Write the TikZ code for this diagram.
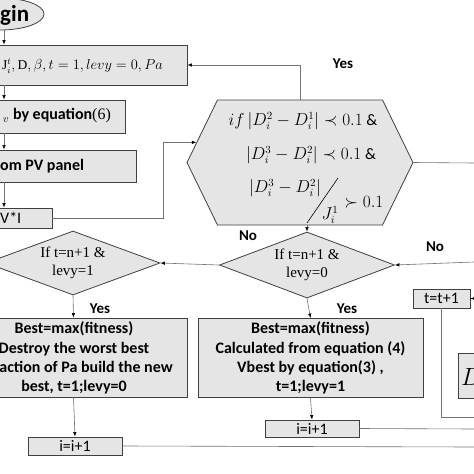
\documentclass[tikz,border=0pt]{standalone}
\usepackage{amsmath, amssymb}
\usepackage{fontspec}
\setmainfont{Carlito}
\newfontfamily\tms{Liberation Serif}
\usetikzlibrary{shapes}
\usetikzlibrary{shapes.geometric}
\usetikzlibrary{shapes.symbols}
\usetikzlibrary{arrows.meta}
\usetikzlibrary{positioning}
\usetikzlibrary{calc}
\tikzstyle{bloc}=[rectangle,draw=black!75,line width=0.8pt,fill=black!10,inner sep=0pt]
\tikzstyle{debutfin}=[ellipse,draw=black!75,line width=0.8pt,fill=black!10,inner sep=0pt]
\tikzstyle{test}=[diamond,aspect=2.6,draw=black!75,line width=0.8pt,fill=black!10,inner sep=0pt,
        font=\tms\fontsize{15}{18}\selectfont,align=center]
\tikzstyle{hexa}=[signal,signal to=west and east,signal pointer angle=128,
        draw=black!75,line width=0.8pt,fill=black!10,inner sep=0pt]
\tikzstyle{gras}=[font=\fontsize{16}{19.3}\selectfont\bfseries,align=center,inner sep=0pt]
\tikzstyle{simple}=[font=\fontsize{16}{19}\selectfont,inner sep=0pt]
\tikzstyle{maths}=[font=\fontsize{16}{19}\selectfont,inner sep=0pt]
\tikzstyle{reponse}=[font=\fontsize{15}{18}\selectfont\bfseries,inner sep=0pt]
\tikzstyle{suite}=[-{Latex[length=4.5pt,width=3.5pt,black]},draw=black!55,line width=0.6pt]
\tikzstyle{trait}=[draw=black!55,line width=0.6pt]

\begin{document}
\begin{tikzpicture}[x=1pt,y=-1pt]
\useasboundingbox (0,0) rectangle (474,474);
\fill[white] (0,0) rectangle (474,474);
\clip (0,0) rectangle (474,474);
\node[debutfin,minimum width=88,minimum height=32] (begin) at (0,14) {};
\node[gras,font=\fontsize{23}{26}\selectfont\bfseries,anchor=west] (beginT) at (0,15) {gin};
\node[bloc,minimum width=227,minimum height=40] (init) at (73.5,65) {};
\node[maths,anchor=west,font=\fontsize{13.5}{16}\selectfont] (initT) at (2,66)
        {$\text{\tms J}_i^t,\text{\tms D},\beta,t=1,levy=0,Pa$};
\node[bloc,minimum width=165,minimum height=33] (pv) at (42.5,116.5) {};
\node[gras,anchor=west] (pvT) at (3,116) {$_v$ by equation{\tms\mdseries(6)}};
\node[bloc,minimum width=176,minimum height=32] (panel) at (48,166) {};
\node[gras,anchor=west] (panelT) at (0,166) {om PV panel};
\node[bloc,minimum width=92,minimum height=20] (vi) at (6,218) {};
\node[simple,anchor=west] (viT) at (0,218) {V*I};
\node[hexa,minimum width=226,minimum height=125] (hex) at (300,162.5) {};
\node[maths] (c1) at (303,121) {$if\left|D_i^2-D_i^1\right|\prec 0.1\ \&$};
\node[maths] (c2) at (311,155) {$\left|D_i^3-D_i^2\right|\prec 0.1\ \&$};
\node[maths] (c3) at (285,188) {$\left|D_i^3-D_i^2\right|$};
\node[maths] (c4) at (330,215) {$J_i^1$};
\node[maths] (c5) at (364,202) {$\succ 0.1$};
\draw[line width=0.6pt] (338,178) -- (307,223);
\node[test,minimum width=174,minimum height=64] (test1) at (73,263) {If t=n+1 \&\\levy=1};
\node[test,minimum width=175,minimum height=66] (test2) at (307,265) {If t=n+1 \&\\levy=0};
\node[bloc,minimum width=227,minimum height=79] (best1) at (73.5,357.5) {};
\node[gras] (best1T) at (74,358) {Best=max(fitness)\\Destroy the worst best\\\hspace*{24pt}action of Pa build the new\\best, t=1;levy=0};
\node[bloc,gras,minimum width=225,minimum height=79] (best2) at (310.5,358)
        {Best=max(fitness)\\Calculated from equation (4)\\Vbest by equation(3) ,\\t=1;levy=1};
\node[bloc,simple,minimum width=94,minimum height=17] (inc2) at (312,428.5) {i=i+1};
\node[bloc,simple,minimum width=94,minimum height=18] (inc1) at (75,446) {i=i+1};
\node[bloc,simple,minimum width=57,minimum height=19] (tt) at (441.5,298.5) {t=t+1};
\node[bloc,minimum width=62,minimum height=45] (dbox) at (489,375.5) {};
\node[maths,font=\fontsize{28}{30}\selectfont,anchor=west] (dT) at (461,377) {$D$};
\node[reponse] (oui1) at (343,64) {Yes};
\node[reponse] (non1) at (248,236) {No};
\node[reponse] (non2) at (435,247) {No};
\node[reponse] (oui2) at (100,309) {Yes};
\node[reponse] (oui3) at (347,309) {Yes};
\coordinate (axe) at (4,0);
\coordinate (coude) at (163,218);
\coordinate (droite1) at (474,163);
\coordinate (droite2) at (474,262);
\coordinate (droite3) at (474,429);
\coordinate (droite4) at (474,447);
\coordinate (droite5) at (474,298.5);
\coordinate (droite6) at (474,417);
%fleches
\draw[suite] (begin.south -| axe) -- (init.north -| axe);
\draw[suite] (init.south -| axe) -- (pv.north -| axe);
\draw[suite] (pv.south -| axe) -- (panel.north -| axe);
\draw[suite] (panel.south -| axe) -- (vi.north -| axe);
\draw[suite] (vi.east) -- (coude) |- (hex.169);
\draw[suite] (hex.north) |- (init.east);
\draw[trait] (hex.east) -- (droite1);
\draw[suite] (hex.south -| test2.north) -- (test2.north);
\draw[suite] (test2.west) -- (test1.east);
\draw[suite] (droite2) -- (test2.east);
\draw[suite] (test1.south) -- (best1.north);
\draw[suite] (test2.south) -- (best2.north);
\draw[suite] (best1.south) -- (inc1.north);
\draw[suite] (best2.south) -- (inc2.north);
\draw[trait] (inc2.east) -- (droite3);
\draw[trait] (inc1.east) -- (droite4);
\draw[suite] (droite5) -- (tt.east);
\draw[trait] (tt.south) |- (droite6);
\end{tikzpicture}
\end{document}
